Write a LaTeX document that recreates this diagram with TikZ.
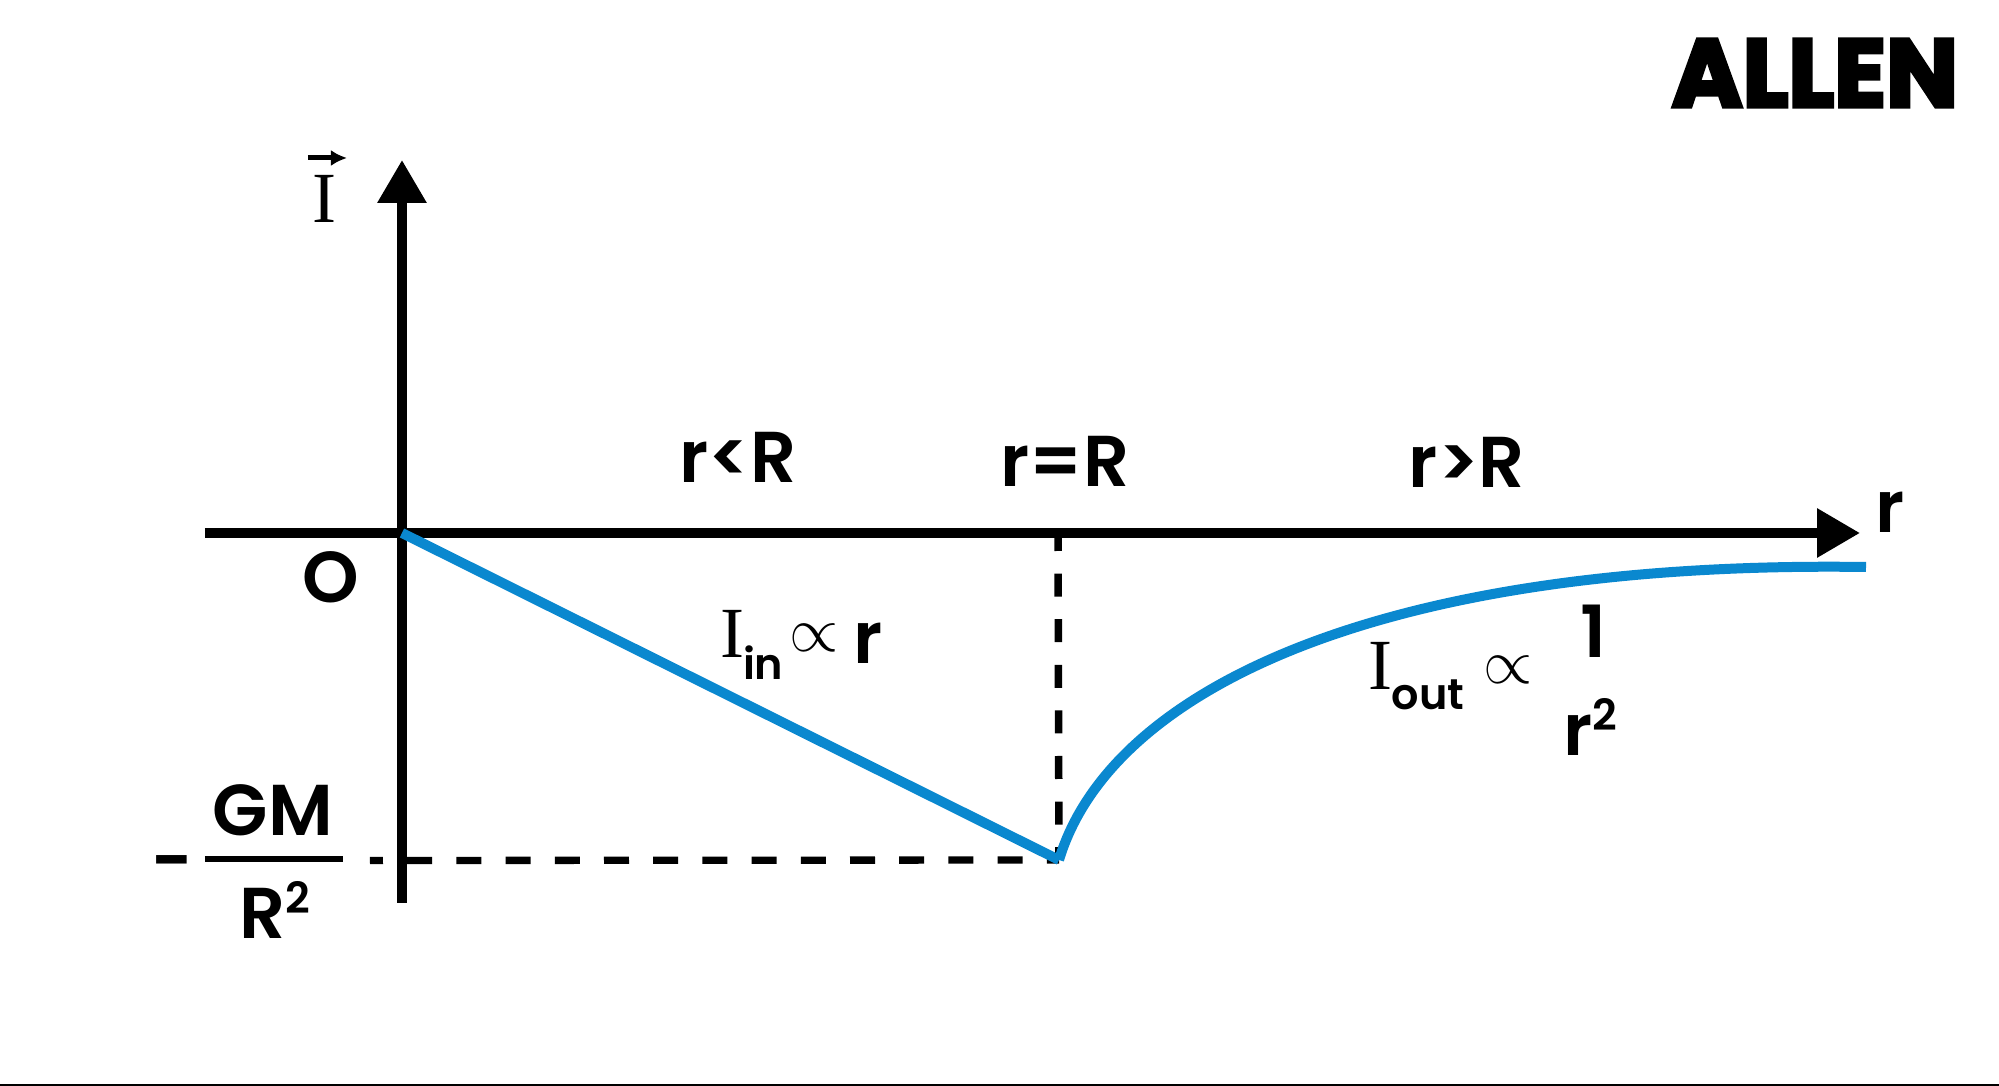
\documentclass[tikz,border=0pt]{standalone}
\usepackage{fontspec}
\setmainfont{Poppins}[BoldFont={* SemiBold}]
\newfontfamily\serifface{Liberation Serif}
\newfontfamily\logoface{Poppins}[FakeBold=4]
\usetikzlibrary{arrows.meta, positioning}
\definecolor{curveblue}{HTML}{0A88CF}
\newcommand{\squared}{\raisebox{12.5pt}{\fontsize{21.5}{21.5}\selectfont 2}}
\tikzset{
  lab/.style={inner sep=0pt, font=\fontsize{36}{36}\selectfont\bfseries},
  sublab/.style={inner sep=0pt, font=\fontsize{21.5}{21.5}\selectfont\bfseries},
  ivar/.style={inner sep=0pt, font=\fontsize{36}{36}\selectfont\serifface},
  prop/.style={inner sep=0pt, scale=1.27, font=\fontsize{24.88}{24.88}\selectfont},
  axis/.style={line width=4.75pt, -{Triangle[length=21.5pt, width=23.5pt]}},
  curve/.style={line width=5pt, curveblue},
  guide/.style={line width=3.75pt, dash pattern=on 11.5pt off 11.3pt},
  flatguide/.style={line width=3.65pt, dash pattern=on 12.5pt off 12.1pt}
}

\begin{document}
\begin{tikzpicture}[node distance = 10pt, on grid]
  \coordinate (origin) at (0,0);
  \useasboundingbox (-201pt,-276.5pt) rectangle (798.5pt,266.5pt);
  % axes
  \coordinate[left=98.5pt of origin] (xstart);
  \coordinate[right=729pt of origin] (xend);
  \coordinate[below=185pt of origin] (ystart);
  \coordinate[above=186.5pt of origin] (yend);
  \coordinate[below right=163.5pt and 328.5pt of origin] (rr);
  \coordinate[below right=17pt and 732pt of origin] (far);
  \coordinate[below right=2.5pt and 328pt of origin] (top);
  \coordinate[below left=163.75pt and 16pt of origin] (left);
  \coordinate[above left=187.5pt and 47pt of origin] (arrowa);
  \coordinate[above left=187.5pt and 27.5pt of origin] (arrowb);
  \coordinate[below left=163pt and 98.5pt of origin] (bara);
  \coordinate[below left=163pt and 29.5pt of origin] (barb);
  \coordinate[below left=276pt and 201pt of origin] (floora);
  \coordinate[below right=276pt and 798.5pt of origin] (floorb);
  \path[axis]
    (xstart) edge (xend)
    (ystart) edge (yend);
  \path[guide]
    (top) edge [dash phase=5pt] (rr);
  \path[flatguide]
    (left) edge [dash phase=6pt] (rr);
  \path[curve]
    (origin) edge (rr);
  \draw[curve] (rr) .. controls +(25.5pt,85pt) and +(-243pt,3.5pt) .. (far);
  \path[line width=2.5pt, -{Latex[length=8pt, width=8pt]}] (arrowa) edge (arrowb);
  \path[line width=2.75pt] (bara) edge (barb);
  \path[line width=1pt] (floora) edge (floorb);
  % labels
  \node[ivar] (ivec) [above left=167pt and 39pt of origin, anchor=center] {I};
  \node[lab] (oname) [below left=22pt and 35.5pt of origin, anchor=center] {O};
  \node[lab] (rname) [above right=10.5pt and 744pt of origin, anchor=center] {r};
  \node[lab] (less) [above right=38pt and 168pt of origin, anchor=center] {r<R};
  \node[lab] (equal) [above right=36pt and 331.5pt of origin, anchor=center] {r=R};
  \node[lab] (more) [above right=35.5pt and 532.5pt of origin, anchor=center] {r>R};
  \node[lab] (minus) [below left=169pt and 115pt of origin, anchor=center] {-};
  \node[lab] (gm) [below left=138.5pt and 64.5pt of origin, anchor=center] {GM};
  \node[lab] (rsq) [below left=188.5pt and 63.5pt of origin, anchor=center] {R\squared};
  % inner law
  \node[ivar] (iin) [below right=50.5pt and 165pt of origin, anchor=center] {I};
  \node[sublab] (insub) [below right=14.5pt and 15.6pt of iin, anchor=center] {in};
  \node[prop] (inprop) [below right=2pt and 41pt of iin, anchor=center] {$\propto$};
  \node[lab] (inr) [below right=4.5pt and 68pt of iin, anchor=center] {r};
  % outer law
  \node[ivar] (iout) [below right=66.25pt and 489pt of origin, anchor=center] {I};
  \node[sublab] (outsub) [below right=14.5pt and 24pt of iout, anchor=center] {out};
  \node[prop] (outprop) [below right=2pt and 64pt of iout, anchor=center] {$\propto$};
  \node[lab] (one) [below right=49pt and 596pt of origin, anchor=center] {1};
  \node[lab] (rtwo) [below right=97pt and 594pt of origin, anchor=center] {r\squared};
  % logo
  \node[inner sep=0pt, font=\fontsize{48}{48}\selectfont\logoface\bfseries] (logo) [above right=230pt and 706.5pt of origin, anchor=center] {ALLEN};
\end{tikzpicture}
\end{document}
